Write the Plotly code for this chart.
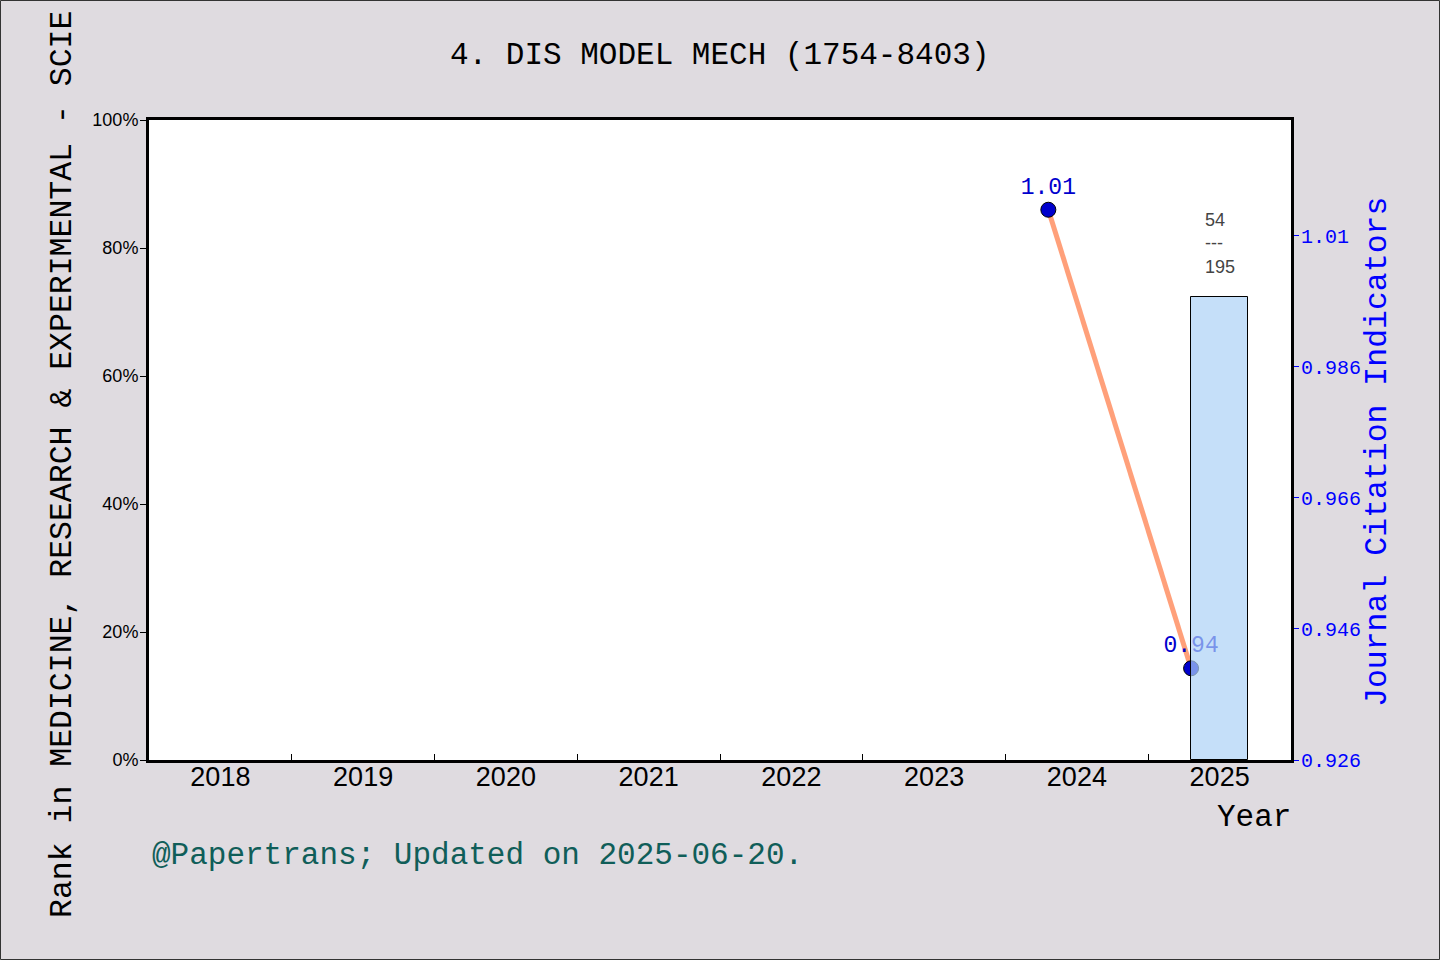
import plotly.graph_objects as go

# ---- data ----
years = [2018, 2019, 2020, 2021, 2022, 2023, 2024, 2025]
year_labels = ["2018", "2019", "2020", "2021", "2022", "2023", "2024", "2025"]
jci_years = [2024, 2025]
jci_values = [1.01, 0.94]
jci_labels = ["1.01", "0.94"]
rank_years = [2025]
rank_pct = [72.3]          # percentile position in category
rank_text = ["54<br>---<br>195"]
boundaries = [2018.5, 2019.5, 2020.5, 2021.5, 2022.5, 2023.5, 2024.5]
jci_ticks = [0.926, 0.946, 0.966, 0.986, 1.006]
jci_ticktext = ["0.926", "0.946", "0.966", "0.986", "1.01"]
pct_ticks = [0, 20, 40, 60, 80, 100]
pct_ticktext = ["0%", "20%", "40%", "60%", "80%", "100%"]

title_text = "4. DIS MODEL MECH (1754-8403)"
left_title = "Rank in MEDICINE, RESEARCH & EXPERIMENTAL - SCIE"
right_title = "Journal Citation Indicators"
footer = "@Papertrans; Updated on 2025-06-20."

MONO = "Liberation Mono"
SANS = "Liberation Sans"
BG = "#dfdbe0"

fig = go.Figure()

# JCI line (drawn on primary axis -> beneath bars)
fig.add_trace(go.Scatter(
    x=[y - 0.2 for y in jci_years], y=jci_values,
    mode="lines+markers+text",
    text=jci_labels, textposition="top center",
    textfont=dict(family=MONO, size=23, color="#0000cd"),
    line=dict(color="#ffa07a", width=5),
    marker=dict(size=15, color="#0000cd", line=dict(color="black", width=1)),
    xaxis="x", yaxis="y", showlegend=False, hoverinfo="skip",
))

# Rank bar (overlaying axis -> drawn on top)
fig.add_trace(go.Bar(
    x=rank_years, y=rank_pct, width=0.4,
    marker=dict(color="rgba(172,210,246,0.7)", line=dict(color="black", width=1)),
    xaxis="x", yaxis="y2", showlegend=False, hoverinfo="skip",
))

# empty trace to hold the boundary-tick axis
fig.add_trace(go.Scatter(x=[], y=[], xaxis="x2", yaxis="y", showlegend=False, hoverinfo="skip"))

for yr, val, txt in zip(rank_years, rank_pct, rank_text):
    fig.add_annotation(x=yr, y=val, xref="x", yref="y2", text=txt, showarrow=False,
                       xanchor="center", yanchor="bottom", align="left", yshift=18,
                       font=dict(family=SANS, size=18, color="#444444"))

fig.update_layout(
    width=1440, height=960,
    margin=dict(l=149, r=149, t=120, b=200),
    paper_bgcolor=BG, plot_bgcolor="white",
    bargap=0,
    xaxis=dict(range=[2017.5, 2025.5], tickvals=years, ticktext=year_labels,
               ticks="", showline=True, linewidth=3, linecolor="black", mirror=True,
               showgrid=False, zeroline=False, ticklabelstandoff=-9,
               tickfont=dict(family=SANS, size=27, color="black")),
    xaxis2=dict(range=[2017.5, 2025.5], overlaying="x", anchor="y", side="bottom",
                tickvals=boundaries, ticks="inside", ticklen=6, tickwidth=1, tickcolor="black",
                showticklabels=False, showgrid=False, zeroline=False, showline=False),
    yaxis=dict(range=[0.926, 1.0237], side="right", tickvals=jci_ticks, ticktext=jci_ticktext,
               ticks="outside", ticklen=5, tickcolor="blue", ticklabelstandoff=-2,
               showline=True, linewidth=3, linecolor="black", mirror=True,
               showgrid=False, zeroline=False,
               tickfont=dict(family=MONO, size=20, color="blue")),
    yaxis2=dict(range=[0, 100], side="left", overlaying="y", tickvals=pct_ticks,
                ticktext=pct_ticktext, ticks="outside", ticklen=6, tickcolor="black",
                ticklabelstandoff=-2,
                showline=True, linewidth=3, linecolor="black",
                showgrid=False, zeroline=False,
                tickfont=dict(family=SANS, size=18, color="black")),
)

# texts
fig.add_annotation(x=0.5, y=(760 - 56) / 640, xref="paper", yref="paper", text=title_text,
                   showarrow=False, xanchor="center", yanchor="middle",
                   font=dict(family=MONO, size=31, color="black"))
fig.add_annotation(x=(62 - 149) / 1142, y=(760 - 465) / 640, xref="paper", yref="paper",
                   text=left_title, textangle=-90, showarrow=False,
                   xanchor="center", yanchor="middle",
                   font=dict(family=MONO, size=31.5, color="black"))
fig.add_annotation(x=(1377 - 149) / 1142, y=(760 - 452) / 640, xref="paper", yref="paper",
                   text=right_title, textangle=-90, showarrow=False,
                   xanchor="center", yanchor="middle",
                   font=dict(family=MONO, size=31.5, color="blue"))
fig.add_annotation(x=(1254 - 149) / 1142, y=(760 - 817) / 640, xref="paper", yref="paper",
                   text="Year", showarrow=False, xanchor="center", yanchor="middle",
                   font=dict(family=MONO, size=31, color="black"))
fig.add_annotation(x=(150 - 149) / 1142, y=(760 - 855) / 640, xref="paper", yref="paper",
                   text=footer, showarrow=False, xanchor="left", yanchor="middle",
                   font=dict(family=MONO, size=31, color="#105e59"))

# figure border
fig.add_shape(type="rect", xref="paper", yref="paper",
              x0=(0.5 - 149) / 1142, x1=(1439.5 - 149) / 1142,
              y0=(760 - 959.5) / 640, y1=(760 - 0.5) / 640,
              line=dict(color="#333333", width=1), layer="below")

fig.write_html("out.html", config={"displayModeBar": False},
               post_script="document.body.style.margin='0';document.body.style.overflow='hidden';")
